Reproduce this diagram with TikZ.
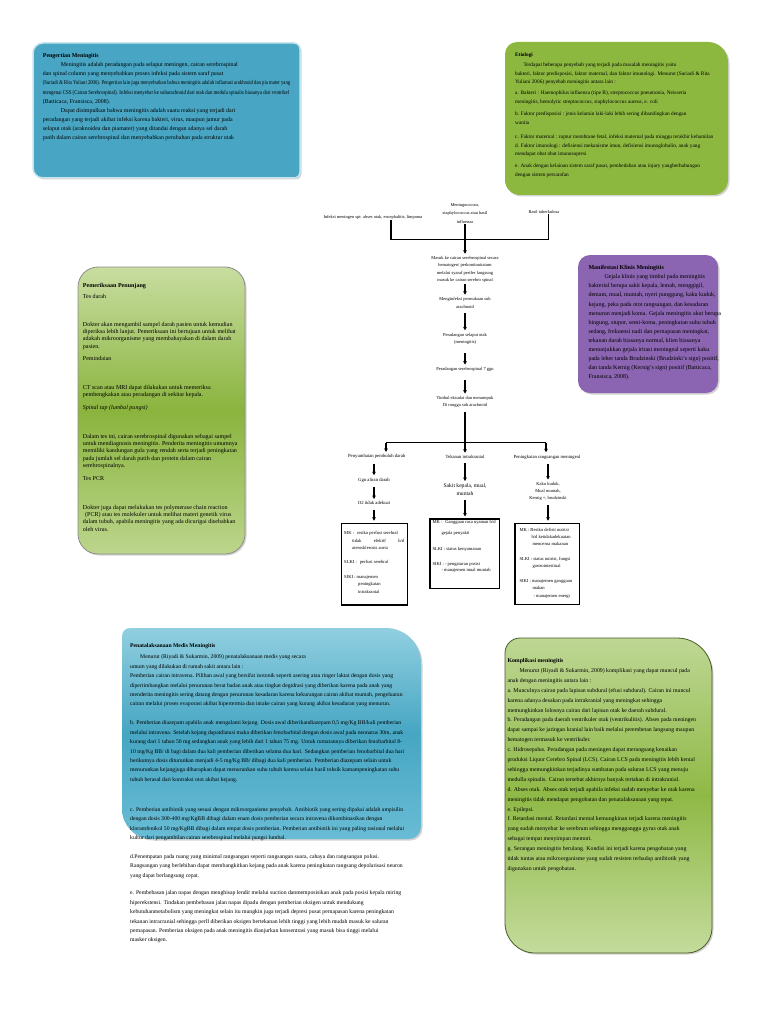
\documentclass[tikz,border=0pt]{standalone}
\usepackage{fontspec}
\usepackage{graphicx}
\setmainfont{Liberation Serif}
\usetikzlibrary{arrows.meta,shadows,calc}
\definecolor{tlblue}{RGB}{72,166,196}
\definecolor{trgreen}{RGB}{141,184,64}
\definecolor{purp}{RGB}{139,101,177}
\definecolor{lgtop}{RGB}{200,221,160}
\definecolor{lgmid}{RGB}{138,180,62}
\definecolor{lgbot}{RGB}{188,213,140}
\definecolor{bbtop}{RGB}{145,207,224}
\definecolor{bbmid}{RGB}{70,166,195}
\definecolor{bbbot}{RGB}{105,188,213}
\definecolor{brtop}{RGB}{190,215,148}
\definecolor{brmid}{RGB}{143,185,70}
\definecolor{brbot}{RGB}{196,219,156}
\newcommand\fs[2]{\fontsize{#1}{#2}\selectfont}
\newcommand\rr[8]{(#1+#5,#2) -- (#3-#6,#2) arc[start angle=270,end angle=360,radius=#6] -- (#3,#4-#7) arc[start angle=0,end angle=90,radius=#7] -- (#1+#8,#4) arc[start angle=90,end angle=180,radius=#8] -- (#1,#2+#5) arc[start angle=180,end angle=270,radius=#5] -- cycle}
\tikzset{
  txt/.style={inner sep=0pt, anchor=north west, align=left, text=black},
  fl/.style={inner sep=0.5pt, align=center, font=\fs{4.5}{7.3}},
  conn/.style={line width=1.3pt, black},
  arr/.style={line width=1.3pt, black, -{Stealth[length=3.5pt,width=3.8pt]}, shorten <=4pt, shorten >=2pt},
  fbox/.style={draw, line width=1.2pt, inner sep=0pt, fill=white},
  shad/.style={drop shadow={opacity=0.35, shadow xshift=1.5pt, shadow yshift=-1.5pt}}
}
\begin{document}
\begin{tikzpicture}[x=1pt,y=-1pt]
\useasboundingbox (0,0) rectangle (768,1024);
\fill[white] (0,0) rectangle (768,1024);

% ---------- boxes ----------
\fill[tlblue, shad] \rr{33}{43}{300}{178}{10}{6}{6}{10};
\draw[white!70!tlblue, line width=1.5pt] \rr{33}{43}{300}{178}{10}{6}{6}{10};
\fill[trgreen, shad] \rr{505}{42}{728}{195}{12}{20}{15}{15};
\shade[top color=lgtop, bottom color=lgbot, middle color=lgmid, shad] \rr{78}{267}{245}{554}{20}{20}{20}{20};
\draw[black!45, line width=0.8pt] \rr{78}{267}{245}{554}{20}{20}{20}{20};
\fill[purp, shad] \rr{578}{255}{718}{393}{12}{12}{12}{12};
\shade[top color=bbtop, bottom color=bbbot, middle color=bbmid, shad] \rr{122}{628}{421}{839}{8}{35}{12}{30};
\shade[top color=brtop, bottom color=brbot, middle color=brmid, shad] \rr{505}{638}{712}{953}{15}{35}{25}{30};
\draw[black!50!brmid, line width=0.8pt] \rr{505}{638}{712}{953}{15}{35}{25}{30};

% ---------- top-left text ----------
\node[txt, font=\fs{5.9}{9.15}] (tTL) at (42.7,53.2) {%
\textbf{Pengertian Meningitis}\\
\hspace*{18pt}Meningitis adalah peradangan pada selaput meningen, cairan serebrospinal\\
dan spinal column yang menyebabkan proses infeksi pada sistem saraf pusat\\
\scalebox{0.8}[1]{(Suriadi \& Rita Yuliani 2006). Pengertian lain juga menyebutkan bahwa meningitis adalah inflamasi arakhnoid dan pia mater yang}\\
\scalebox{0.82}[1]{mengenai CSS (Cairan Serebrospinal). Infeksi menyebar ke subarachnoid dari otak dan medula spinalis biasanya dari ventrikel}\\
(Batticaca, Fransisca, 2008).\\
\hspace*{18pt}Dapat disimpulkan bahwa meningitis adalah suatu reaksi yang terjadi dari\\
peradangan yang terjadi akibat infeksi karena bakteri, virus, maupun jamur pada\\
selaput otak (araknoidea dan piamater) yang ditandai dengan adanya sel darah\\
putih dalam cairan serebrospinal dan menyebabkan perubahan pada struktur otak};

% ---------- top-right text ----------
\node[txt, font=\fs{5.3}{8.8}] (tTR) at (515,52.6) {%
\textbf{Etiologi}\\[1.1pt]
\hspace*{8.3pt}Terdapat beberapa penyebab yang terjadi pada masalah meningitis yaitu\\
bakteri, faktor predisposisi, faktor maternal, dan faktor imunologi. Menurut (Suriadi \& Rita\\
Yuliani 2006) penyebab meningitis antara lain :\\[2.1pt]
a. Bakteri : Haemophilus influenza (tipe B), streptococcus pneumonia, Neisseria\\
meningitis, hemolytic streptococcus, staphylococcus aureus, e. coli\\[3.4pt]
b. Faktor predisposisi : jenis kelamin laki-laki lebih sering dibandingkan dengan\\
wanita\\[4.8pt]
c. Faktor maternal : ruptur membrane fetal, infeksi maternal pada minggu terakhir kehamilan\\
d. Faktor imunologi : defisiensi mekanisme imun, defisiensi imunoglobulin, anak yang\\
mendapat obat obat imunosupresi\\[3.1pt]
e. Anak dengan kelainan sistem saraf pusat, pembedahan atau injury yangberhubungan\\
dengan sistem persarafan};

% ---------- left green text ----------
\node[txt, font=\fs{6.05}{7.35}] (tL) at (82.7,283.3) {%
\textbf{Pemeriksaan Penunjang}\\[3pt]
Tes darah\\[20.6pt]
Dokter akan mengambil sampel darah pasien untuk kemudian\\
diperiksa lebih lanjut. Pemeriksaan ini bertujuan untuk melihat\\
adakah mikroorganisme yang membahayakan di dalam darah\\
pasien.\\[5.3pt]
Pemindaian\\[21pt]
CT scan atau MRI dapat dilakukan untuk memeriksa\\
pembengkakan atau peradangan di sekitar kepala.\\[6pt]
\textit{Spinal tap (lumbal pungsi)}\\[21pt]
Dalam tes ini, cairan serebrospinal digunakan sebagai sampel\\
untuk mendiagnosis meningitis. Penderita meningitis umumnya\\
memiliki kandungan gula yang rendah serta terjadi peningkatan\\
pada jumlah sel darah putih dan protein dalam cairan\\
serebrospinalnya.\\[6pt]
Tes PCR\\[21pt]
Dokter juga dapat melakukan tes polymerase chain reaction\\
\hspace*{2.3pt}(PCR) atau tes molekuler untuk melihat materi genetik virus\\
dalam tubuh, apabila meningitis yang ada dicurigai disebabkan\\
oleh virus.};

% ---------- purple text ----------
\node[txt, font=\fs{6}{9.08}] (tP) at (588.3,265.3) {%
\textbf{Manifestasi Klinis Meningitis}\\
\hspace*{16pt}Gejala klinis yang timbul pada meningitis\\
bakterial berupa sakit kepala, lemah, menggigil,\\
demam, mual, muntah, nyeri punggung, kaku kuduk,\\
kejang, peka pada otot rangsangan, dan kesadaran\\
menurun menjadi koma. Gejala meningitis akut berupa\\
bingung, stupor, semi-koma, peningkatan suhu tubuh\\
sedang, frekuensi nadi dan pernapasan meningkat,\\
tekanan darah biasanya normal, klien biasanya\\
menunjukkan gejala iritasi meningeal seperti kaku\\
pada leher tanda Brudzinski (Brudzinki's sign) positif,\\
dan tanda Kernig (Kernig's sign) positif (Batticaca,\\
Fransisca, 2008).};

% ---------- bottom-left text ----------
\node[txt, font=\fs{5.7}{9.4}] (tBL) at (130,643.1) {%
\textbf{Penatalaksanaan Medis Meningitis}\\[2.2pt]
\hspace*{10pt}Menurut (Riyadi \& Sukarmin, 2009) penatalaksanaan medis yang secara\\
umum yang dilakukan di rumah sakit antara lain :\\
Pemberian cairan intravena. Pilihan awal yang bersifat isotonik seperti asering atau ringer laktat dengan dosis yang\\
dipertimbangkan melalui penurunan berat badan anak atau tingkat degidrasi yang diberikan karena pada anak yang\\
menderita meningitis sering datang dengan penurunan kesadaran karena kekurangan cairan akibat muntah, pengeluaran\\
cairan melalui proses evaporasi akibat hipertermia dan intake cairan yang kurang akibat kesadaran yang menurun.\\[9.6pt]
b. Pemberian diazepam apabila anak mengalami kejang. Dosis awal diberikandiazepam 0,5 mg/Kg BB/kali pemberian\\
melalui intravena. Setelah kejang dapatdiatasi maka diberikan fenobarbital dengan dosis awal pada neonatus 30m, anak\\
kurang dari 1 tahun 50 mg sedangkan anak yang lebih dari 1 tahun 75 mg. Untuk rumatannya diberikan fenobarbital 8-\\
10 mg/Kg BB/ di bagi dalam dua kali pemberian diberikan selama dua hari. Sedangkan pemberian fenobarbital dua hari\\
berikutnya dosis diturunkan menjadi 4-5 mg/Kg BB/ dibagi dua kali pemberian. Pemberian diazepam selain untuk\\
menurunkan kejangjuga diharapkan dapat menurunkan suhu tubuh karena selain hasil toksik kamampeningkatan suhu\\
tubuh berasal dari kontraksi otot akibat kejang.\\[20.9pt]
c. Pemberian antibiotik yang sesuai dengan mikroorganisme penyebab. Antibiotik yang sering dipakai adalah ampisilin\\
dengan dosis 300-400 mg/KgBB dibagi dalam enam dosis pemberian secara intravena dikombinasikan dengan\\
kloramfenikol 50 mg/KgBB dibagi dalam empat dosis pemberian. Pemberian antibiotik ini yang paling rasional melalui\\
kultur dari pengambilan cairan serebrospinal melalui pungsi lumbal.\\[9.1pt]
d.Penempatan pada ruang yang minimal rangsangan seperti rangsangan suara, cahaya dan rangsangan polusi.\\
Rangsangan yang berlebihan dapat membangkitkan kejang pada anak karena peningkatan rangsang depolarisasi neuron\\
yang dapat berlangsung cepat.\\[8.4pt]
e. Pembebasan jalan napas dengan menghisap lendir melalui suction danmemposisikan anak pada posisi kepala miring\\
hiperekstensi. Tindakan pembebasan jalan napas dipadu dengan pemberian oksigen untuk mendukung\\
kebutuhanmetabolism yang meningkat selain itu mungkin juga terjadi depresi pusat pernapasan karena peningkatan\\
tekanan intracranial sehingga perlI diberikan oksigen bertekanan lebih tinggi yang lebih mudah masuk ke saluran\\
pernapasan. Pemberian oksigen pada anak meningitis dianjurkan konsentrasi yang masuk bisa tinggi melalui\\
masker oksigen.};

% ---------- bottom-right text ----------
\node[txt, font=\fs{5.8}{9.9}] (tBR) at (507.3,658.3) {%
\textbf{Komplikasi meningitis}\\
\hspace*{12pt}Menurut (Riyadi \& Sukarmin, 2009) komplikasi yang dapat muncul pada\\
anak dengan meningitis antara lain :\\
a. Munculnya cairan pada lapisan subdural (efusi subdural). Cairan ini muncul\\
karena adanya desakan pada intrakranial yang meningkat sehingga\\
memungkinkan lolosnya cairan dari lapisan otak ke daerah subdural.\\
b. Peradangan pada daerah ventrikuler otak (ventrikulitis). Abses pada meningen\\
dapat sampai ke jaringan kranial lain baik melalui perembetan langsung maupun\\
hematogen termasuk ke ventrikuler.\\
c. Hidrosepalus. Peradangan pada meningen dapat merangsang kenaikan\\
produksi Liquor Cerebro Spinal (LCS). Cairan LCS pada meningitis lebih kental\\
sehingga memungkinkan terjadinya sumbatan pada saluran LCS yang menuju\\
medulla spinalis. Cairan tersebut akhirnya banyak tertahan di intrakranial.\\
d. Abses otak. Abses otak terjadi apabila infeksi sudah menyebar ke otak karena\\
meningitis tidak mendapat pengobatan dan penatalaksanaan yang tepat.\\
e. Epilepsi.\\
f. Retardasi mental. Retardasi mental kemungkinan terjadi karena meningitis\\
yang sudah menyebar ke serebrum sehingga mengganggu gyrus otak anak\\
sebagai tempat menyimpan memori.\\
g. Serangan meningitis berulang. Kondisi ini terjadi karena pengobatan yang\\
tidak tuntas atau mikroorganisme yang sudah resisten terhadap antibiotik yang\\
digunakan untuk pengobatan.};

% ---------- flow ----------
\node[fl, font=\fs{4.4}{7}] (f1) at (373,217) {Infeksi meningen spt: abses otak, encephalitis, limpoma};
\node[fl, font=\fs{4.4}{8.3}] (f2) at (465,213.5) {Meningococcus,\\staphylococcus atau basil\\influenza};
\node[fl, font=\fs{4.4}{7}] (f3) at (544,211.7) {Basil tuberkulosa};
\node[fl] (f4) at (465,269.4) {Masuk ke cairan serebrospinal secara\\hematogen/ perkontinuitatum\\melalui syaraf perifer langsung\\masuk ke cairan serebro spinal};
\node[fl, font=\fs{4.5}{7.7}] (f5) at (465,302.8) {Menginfeksi permukaan sub\\arachnoid};
\node[fl] (f6) at (465,338.7) {Peradangan selaput otak\\(meningitis)};
\node[fl] (f7) at (465,369.3) {Peradangan serebrospinal 7 ggn};
\node[fl, font=\fs{4.5}{6.7}] (f8) at (465,401.7) {Timbul eksudat dan menumpuk\\Di rongga sub arachnoid};

\coordinate (jL) at (391,239.3);
\coordinate (jR) at (548.3,239.3);
\draw[conn] (f1.south -| jL) -- (jL) -- (jR) -- (f3.south -| jR);
\draw[arr, shorten <=0pt] (f2) -- (f4);
\draw[arr, shorten <=1pt] (f4) -- (f5);
\draw[arr] (f5) -- (f6);
\draw[arr, shorten <=8pt] (f6) -- (f7);
\draw[arr, shorten <=8pt] (f7) -- (f8);

\node[fl, font=\fs{4.7}{7}] (g1) at (376.7,456.7) {Penyumbatan pembuluh darah};
\node[fl, font=\fs{4.7}{7}] (g2) at (465,457) {Tekanan intrakranial};
\node[fl, font=\fs{4.7}{7}] (g3) at (547,457) {Peningkatan rangsangan meningeal};
\coordinate (hL) at (386,442.7);
\coordinate (hR) at (546,442.7);
\draw[conn] (hL) -- (hR);
\draw[arr] (f8) -- (g2);
\draw[arr, shorten <=0pt] (hL) -- (g1.north -| hL);
\draw[arr, shorten <=0pt] (hR) -- (g3.north -| hR);

% left column
\node[fl, font=\fs{4.7}{7}] (l2) at (374,480) {Ggn aliran darah};
\node[fl, font=\fs{4.7}{7}] (l3) at (374,503.3) {O2 tidak adekuat};
\node[fbox, minimum width=65.6pt, minimum height=81.7pt] (bL) at (374.5,564.15) {};
\draw[arr] (g1.south -| l2) -- (l2);
\draw[arr] (l2) -- (l3);
\draw[arr] (l3) -- (l3 |- bL.north);
\node[txt, font=\fs{4.6}{7.4}] (tbL) at (344,531.3) {%
MK :\hspace{3pt}resiko perfusi serebral\\
\hspace*{8pt}\makebox[52pt][s]{tidak efektif b/d}\\
\hspace*{8pt}aterosklerosis aorta\\[6.5pt]
SLKI :\hspace{3pt}perfusi serebral\\[7.5pt]
SIKI : manajemen\\
\hspace*{14pt}peningkatan\\
\hspace*{14pt}intrakranial};

% center column
\node[fl, font=\fs{5.6}{7.7}] (c2) at (465,489.5) {Sakit kepala, mual,\\muntah};
\node[fbox, minimum width=69.3pt, minimum height=69.3pt] (bC) at (464.65,553.65) {};
\draw[arr] (g2) -- (c2);
\draw[arr] (c2) -- (c2 |- bC.north);
\node[txt, font=\fs{4.6}{7}] (tbC) at (432.3,520.3) {%
MK :\hspace{3pt}Gangguan rasa nyaman b/d\\[4pt]
\hspace*{9pt}gejala penyakit\\[8.7pt]
SLKI : status kenyamanan\\[8.3pt]
SIKI : - pengaturan posisi\\[-1pt]
\hspace*{9pt}- manajemen mual muntah};

% right column
\node[fl, font=\fs{4.5}{7}] (r2) at (548,491.2) {Kaku kuduk,\\Mual muntah,\\Kernig +, brudzinski};
\node[fbox, minimum width=64.3pt, minimum height=81pt] (bR) at (547.15,563.8) {};
\draw[arr] (g3.south -| r2) -- (r2);
\draw[arr] (r2) -- (r2 |- bR.north);
\node[txt, font=\fs{4.6}{7}] (tbR) at (519.3,528) {%
MK : Resiko defisit nutrisi\\
\hspace*{12pt}b/d ketidakadekuatan\\
\hspace*{13pt}mencerna makanan\\[8pt]
SLKI : status nutrisi, fungsi\\
\hspace*{13pt}gastrointestinal\\[8.3pt]
SIKI : manajemen gangguan\\
\hspace*{13pt}makan\\[1pt]
\hspace*{14pt}- manajemen energi};
\end{tikzpicture}
\end{document}
